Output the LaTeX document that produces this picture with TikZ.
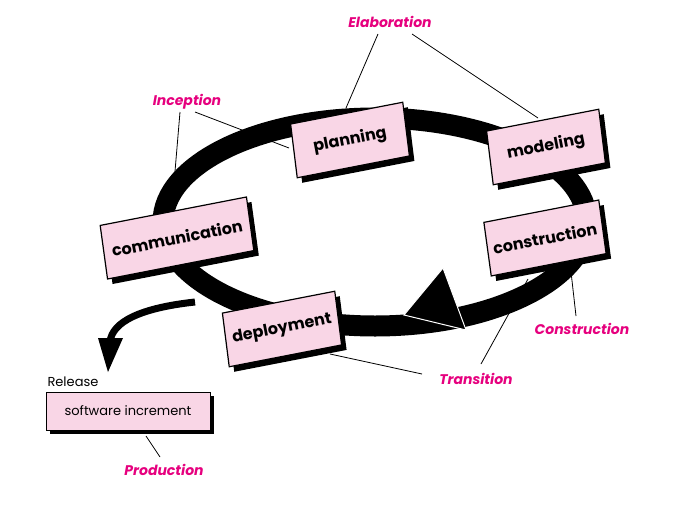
\documentclass[tikz,border=0pt]{standalone}
\usepackage{fontspec}
\setmainfont{Poppins}
\usetikzlibrary{shapes.geometric,shadows}
\definecolor{pinkfill}{HTML}{F9D6E6}
\definecolor{mag}{HTML}{E6007E}
\begin{document}
\begin{tikzpicture}[x=1pt,y=-1pt,
  act/.style={trapezium, trapezium left angle=80, trapezium right angle=100, trapezium stretches body,
    draw=black, line width=1.2pt, fill=pinkfill, minimum height=54pt, inner sep=2pt,
    font=\fontsize{16}{18}\selectfont\bfseries, rotate=11,
    drop shadow={shadow xshift=5pt, shadow yshift=-5pt, fill=black, opacity=1}},
  phase/.style={font=\fontsize{14}{16}\selectfont\bfseries\itshape, text=mag},
  lead/.style={line width=0.8pt}]
\useasboundingbox (0,0) rectangle (694,504);
% cycle ring
\draw[line width=21pt] (375,222) ellipse [x radius=212, y radius=104];
\fill[black, draw=white, line width=1pt] (404,315) -- (443,268) -- (466,330) -- cycle;
% exit arrow
\draw[line width=7pt] (195,302) .. controls (140,308) and (112,322) .. (110,342);
\fill (108,372) -- (98,338) -- (123,338) -- cycle;
% activity boxes
\node[act, minimum width=118pt] (plan) at (350,140) {planning};
\node[act, minimum width=118pt] (model) at (546,147) {modeling};
\node[act, minimum width=152pt] (comm) at (177,238) {communication};
\node[act, minimum width=120pt] (cons) at (545,238) {construction};
\node[act, minimum width=118pt] (depl) at (282,329) {deployment};
% release
\node[anchor=west, font=\fontsize{13}{15}\selectfont] (rel) at (44,382) {Release};
\node[draw, line width=1pt, fill=pinkfill, minimum width=164pt, minimum height=38pt,
  font=\fontsize{13}{15}\selectfont,
  drop shadow={shadow xshift=4pt, shadow yshift=-4pt, fill=black, opacity=1}] (sw) at (128,411) {software increment};
% phases
\node[phase] (elab) at (390,22) {Elaboration};
\node[phase] (inc) at (187,102) {Inception};
\node[phase] (consp) at (582,329) {Construction};
\node[phase] (trans) at (476,379) {Transition};
\node[phase] (prod) at (164,470) {Production};
\coordinate (e1) at (378,34); \coordinate (e2) at (412,34);
\coordinate (i1) at (195,112); \coordinate (i2) at (180,112);
\draw[lead] (e1) -- (346,108);
\draw[lead] (e2) -- (538,118);
\draw[lead] (i1) -- (289,148);
\draw[lead] (i2) -- (172,207);
\draw[lead] (570,263) -- (576,316);
\draw[lead] (528,279) -- (481,364);
\draw[lead] (330,354) -- (422,374);
\draw[lead] (146,436) -- (160,457);
\end{tikzpicture}
\end{document}
